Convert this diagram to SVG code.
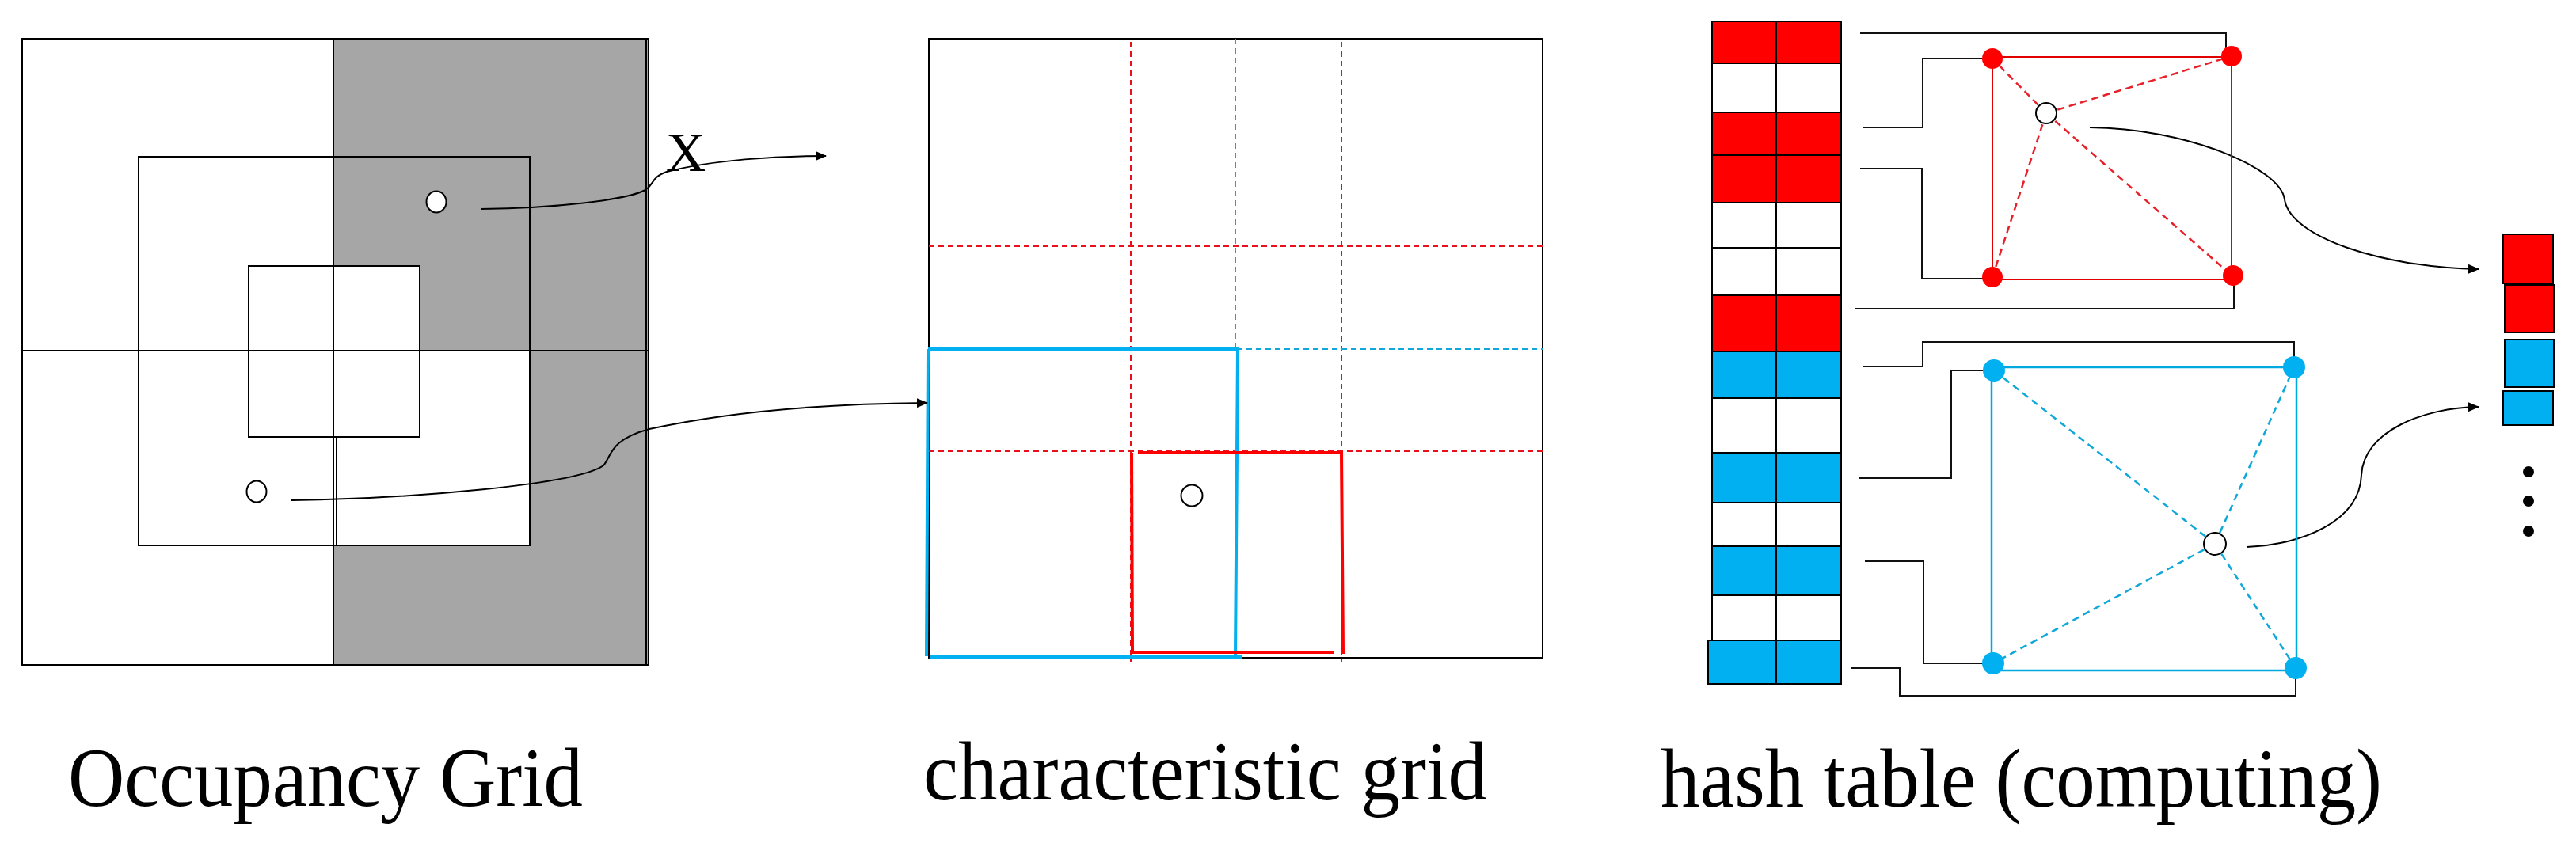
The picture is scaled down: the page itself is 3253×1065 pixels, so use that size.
<svg xmlns="http://www.w3.org/2000/svg" width="3253" height="1065" viewBox="0 0 3253 1065">
<style>
.ln{fill:none;stroke:#000;stroke-width:2}
.cell{stroke:#000;stroke-width:2}
.red{fill:#ff0000}
.blue{fill:#00b0f0}
.white{fill:#fff}
.rdash{fill:none;stroke:#e8101a;stroke-width:2;stroke-dasharray:7,5}
.cdash{fill:none;stroke:#10a8d8;stroke-width:2;stroke-dasharray:7,5}
.rsolid{fill:none;stroke:#ff0000;stroke-width:4}
.csolid{fill:none;stroke:#00b0f0;stroke-width:4}
.hole{fill:#fff;stroke:#000;stroke-width:2}
.rnode{fill:#ff0000}
.cnode{fill:#00b0f0}
.rd2{fill:none;stroke:#e8202a;stroke-width:2.5;stroke-dasharray:9,6}
.cd2{fill:none;stroke:#10a8d8;stroke-width:2.5;stroke-dasharray:9,6}
.conn{fill:none;stroke:#111;stroke-width:2}
.curve{fill:none;stroke:#000;stroke-width:2;marker-end:url(#arrow)}
.lbl{font-family:"Liberation Serif","Times New Roman",serif;font-size:106px;fill:#000}
.xl{font-family:"Liberation Serif","Times New Roman",serif;font-size:70px;fill:#000}
</style>
<defs>
<marker id="arrow" markerUnits="userSpaceOnUse" markerWidth="14" markerHeight="12" viewBox="0 0 14 12" refX="13" refY="6" orient="auto">
<path d="M0,0 L14,6 L0,12 z" fill="#000"/>
</marker>
</defs>
<rect width="3253" height="1065" fill="#fff"/>

<g id="occupancy-grid">
<rect x="28" y="49" width="791" height="791" fill="#fff"/>
<rect x="421" y="49" width="398" height="791" fill="#a6a6a6"/>
<rect x="421" y="443" width="248" height="246" fill="#fff"/>
<rect x="421" y="336" width="109" height="216" fill="#fff"/>
<rect x="28" y="49" width="791" height="791" class="ln"/>
<rect x="175" y="198" width="494" height="491" class="ln"/>
<rect x="314" y="336" width="216" height="216" class="ln"/>
<line x1="421" y1="49" x2="421" y2="840" class="ln"/>
<line x1="28" y1="443" x2="819" y2="443" class="ln"/>
<line x1="425" y1="552" x2="425" y2="689" class="ln" stroke-width="1.5"/>
<line x1="816" y1="49" x2="816" y2="840" class="ln" stroke-width="1"/>
<ellipse cx="551" cy="255" rx="12.5" ry="13.5" class="hole"/>
<ellipse cx="324" cy="621" rx="12.5" ry="13.5" class="hole"/>
</g>

<g id="characteristic-grid">
<rect x="1173" y="49" width="775" height="782" class="ln"/>
<line x1="1428" y1="53" x2="1428" y2="836" class="rdash"/>
<line x1="1694" y1="53" x2="1694" y2="836" class="rdash"/>
<line x1="1173" y1="311" x2="1948" y2="311" class="rdash"/>
<line x1="1173" y1="570" x2="1948" y2="570" class="rdash"/>
<line x1="1560" y1="49" x2="1560" y2="441" class="cdash"/>
<line x1="1562" y1="441" x2="1948" y2="441" class="cdash"/>
<path d="M1172,441 H1563 V446 L1560,829" class="csolid"/>
<path d="M1172,441 L1170,829" class="csolid"/>
<path d="M1174,830 H1568" class="csolid"/>
<path d="M1437,572 H1694 L1696,826" class="rsolid"/>
<path d="M1429,572 L1430,826" class="rsolid"/>
<path d="M1430,824 H1685" class="rsolid"/>
<circle cx="1505" cy="626" r="13.5" class="hole"/>
</g>

<g id="hash-table">
<rect x="2162" y="27" width="163" height="53" class="cell red"/>
<rect x="2162" y="80" width="163" height="62" class="cell white"/>
<rect x="2162" y="142" width="163" height="54" class="cell red"/>
<rect x="2162" y="196" width="163" height="60" class="cell red"/>
<rect x="2162" y="256" width="163" height="57" class="cell white"/>
<rect x="2162" y="313" width="163" height="60" class="cell white"/>
<rect x="2162" y="373" width="163" height="71" class="cell red"/>
<rect x="2162" y="444" width="163" height="59" class="cell blue"/>
<rect x="2162" y="503" width="163" height="69" class="cell white"/>
<rect x="2162" y="572" width="163" height="63" class="cell blue"/>
<rect x="2162" y="635" width="163" height="55" class="cell white"/>
<rect x="2162" y="690" width="163" height="62" class="cell blue"/>
<rect x="2162" y="752" width="163" height="57" class="cell white"/>
<rect x="2157" y="809" width="168" height="55" class="cell blue"/>
<line x1="2243" y1="27" x2="2243" y2="864" class="ln"/>
</g>

<g id="connectors">
<path d="M2349,42 H2811 V62" class="conn"/>
<path d="M2352,161 H2428 V74 H2505" class="conn"/>
<path d="M2349,213 H2427 V352 H2505" class="conn"/>
<path d="M2343,390 H2821 V349 H2808" class="conn"/>
<path d="M2352,463 H2428 V432 H2897 V452" class="conn"/>
<path d="M2348,604 H2464 V468 H2506" class="conn"/>
<path d="M2355,709 H2429 V838 H2505" class="conn"/>
<path d="M2337,844 H2399 V879 H2899 V856" class="conn"/>
<path d="M607,264 C700,263 790,253 815,240 C826,233 822,224 842,217 C900,202 980,197 1043,197" class="curve"/>
<path d="M368,632 C520,630 730,612 762,588 C772,578 768,556 820,542 C930,518 1050,510 1171,509" class="curve"/>
<path d="M2639,161 C2760,162 2880,212 2885,252 C2892,300 3010,338 3130,340" class="curve"/>
<path d="M2837,691 C2905,688 2980,660 2982,600 C2985,545 3060,515 3130,514" class="curve"/>
</g>

<g id="red-cell">
<rect x="2516" y="72" width="302" height="281" fill="none" stroke="#e00000" stroke-width="2"/>
<line x1="2584" y1="143" x2="2516" y2="74" class="rd2"/>
<line x1="2584" y1="143" x2="2818" y2="71" class="rd2"/>
<line x1="2584" y1="143" x2="2516" y2="350" class="rd2"/>
<line x1="2584" y1="143" x2="2808" y2="339" class="rd2"/>
<circle cx="2516" cy="74" r="13" class="rnode"/>
<circle cx="2818" cy="71" r="13" class="rnode"/>
<circle cx="2516" cy="350" r="13" class="rnode"/>
<circle cx="2820" cy="348" r="13" class="rnode"/>
<circle cx="2584" cy="143" r="13" class="hole"/>
</g>

<g id="cyan-cell">
<rect x="2515" y="464" width="385" height="383" fill="none" stroke="#00a8e0" stroke-width="2.5"/>
<line x1="2797" y1="687" x2="2518" y2="468" class="cd2"/>
<line x1="2797" y1="687" x2="2897" y2="464" class="cd2"/>
<line x1="2797" y1="687" x2="2517" y2="838" class="cd2"/>
<line x1="2797" y1="687" x2="2899" y2="844" class="cd2"/>
<circle cx="2518" cy="468" r="14" class="cnode"/>
<circle cx="2897" cy="464" r="14" class="cnode"/>
<circle cx="2517" cy="838" r="14" class="cnode"/>
<circle cx="2899" cy="844" r="14" class="cnode"/>
<circle cx="2797" cy="687" r="14" class="hole"/>
</g>

<g id="output-stack">
<rect x="3161" y="296" width="63" height="62" class="cell red"/>
<rect x="3163" y="360" width="62" height="60" class="cell red"/>
<rect x="3163" y="429" width="62" height="60" class="cell blue"/>
<rect x="3161" y="494" width="63" height="43" class="cell blue"/>
<circle cx="3193" cy="596" r="7" fill="#000"/>
<circle cx="3193" cy="633" r="7" fill="#000"/>
<circle cx="3193" cy="671" r="7" fill="#000"/>
</g>

<g id="labels">
<text x="866" y="216" class="xl" text-anchor="middle">X</text>
<text x="86" y="1018" class="lbl" textLength="650" lengthAdjust="spacingAndGlyphs">Occupancy Grid</text>
<text x="1166" y="1010" class="lbl" textLength="712" lengthAdjust="spacingAndGlyphs">characteristic grid</text>
<text x="2097" y="1019" class="lbl" textLength="911" lengthAdjust="spacingAndGlyphs">hash table (computing)</text>
</g>
</svg>
